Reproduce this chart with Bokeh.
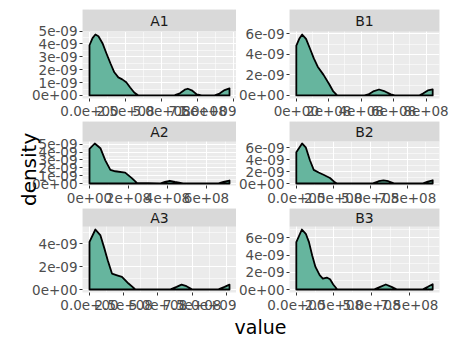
import numpy as np
from bokeh.plotting import figure
from bokeh.layouts import column, row
from bokeh.models import Range1d, FixedTicker, BoxAnnotation, Label
from bokeh.embed import file_html
from bokeh.resources import INLINE

# ---------------- data (x in units of 1e8, density in units of 1e-9) ----------------
X_UNIT = 1e8
Y_UNIT = 1e-9

a1_x = [0, 0.21, 0.41, 0.62, 0.9, 1.17, 1.45, 1.72, 2.0, 2.27, 2.55, 2.82, 3.1, 3.37, 4.2, 5.23,
        5.92, 6.27, 6.61, 6.82, 7.09, 7.44, 7.78, 8.68, 9.02, 9.37, 9.71]
a1_y = [3.9, 4.45, 4.73, 4.6, 4.06, 3.28, 2.5, 1.8, 1.4, 1.25, 1.02, 0.62, 0.23, 0.02, 0.0, 0.0,
        0.02, 0.17, 0.45, 0.52, 0.4, 0.08, 0.01, 0.0, 0.15, 0.42, 0.55]

b1_x = [0, 0.18, 0.36, 0.6, 0.84, 1.08, 1.32, 1.68, 2.04, 2.28, 2.52, 4.2, 4.44, 4.74, 5.1, 5.47,
        5.83, 6.07, 7.57, 7.81, 8.11, 8.41]
b1_y = [4.85, 5.5, 5.92, 5.5, 4.56, 3.6, 2.8, 2.0, 1.07, 0.39, 0.0, 0.0, 0.1, 0.39, 0.58, 0.39,
        0.1, 0.0, 0.0, 0.19, 0.49, 0.58]

a2_x = [0, 0.27, 0.56, 0.81, 1.07, 1.32, 1.83, 2.17, 2.43, 3.61, 3.87, 4.12, 4.38, 4.8, 6.58,
        6.87, 7.18]
a2_y = [4.4, 5.1, 4.5, 2.95, 1.73, 1.56, 1.39, 0.69, 0.07, 0.0, 0.2, 0.35, 0.2, 0.0, 0.0, 0.2, 0.38]

b2_x = [0, 0.39, 0.64, 0.92, 1.18, 1.51, 1.84, 2.28, 2.61, 2.76, 5.13, 5.57, 5.9, 6.23, 6.66,
        8.53, 8.9, 9.23]
b2_y = [5.25, 6.7, 6.07, 3.9, 2.28, 1.84, 1.46, 0.92, 0.2, 0.0, 0.0, 0.38, 0.54, 0.38, 0.0,
        0.0, 0.33, 0.54]

a3_x = [0, 0.43, 0.8, 1.09, 1.33, 1.64, 2.01, 2.37, 2.85, 3.33, 5.87, 6.36, 6.72, 7.08, 7.51,
        9.37, 9.86, 10.22]
a3_y = [4.15, 5.24, 4.72, 3.57, 2.55, 1.39, 1.24, 1.1, 0.52, 0.03, 0.0, 0.23, 0.43, 0.29, 0.0,
        0.0, 0.23, 0.43]

b3_x = [0, 0.37, 0.63, 0.84, 1.05, 1.27, 1.55, 1.76, 2.02, 2.24, 2.45, 2.71, 5.14, 5.57, 5.94,
        6.32, 6.69, 8.37, 8.73, 9.05]
b3_y = [5.5, 6.97, 6.47, 5.5, 3.97, 2.62, 1.66, 1.27, 1.39, 1.19, 0.58, 0.03, 0.0, 0.31, 0.58,
        0.31, 0.0, 0.0, 0.31, 0.61]

# tick values and labels
xt_sci1 = [0.0, 2.5e8, 5.0e8, 7.5e8, 1.0e9]
xl_sci1 = ["0.0e+00", "2.5e+08", "5.0e+08", "7.5e+08", "1.0e+09"]
xt_b1 = [0.0, 2e8, 4e8, 6e8, 8e8]
xl_b1 = ["0e+00", "2e+08", "4e+08", "6e+08", "8e+08"]
xt_a2 = [0.0, 2e8, 4e8, 6e8]
xl_a2 = ["0e+00", "2e+08", "4e+08", "6e+08"]
xt_b23 = [0.0, 2.5e8, 5.0e8, 7.5e8]
xl_b23 = ["0.0e+00", "2.5e+08", "5.0e+08", "7.5e+08"]

yt_1 = [0.0, 1e-9, 2e-9, 3e-9, 4e-9, 5e-9]
yl_1 = ["0e+00", "1e-09", "2e-09", "3e-09", "4e-09", "5e-09"]
yt_2 = [0.0, 2e-9, 4e-9, 6e-9]
yl_2 = ["0e+00", "2e-09", "4e-09", "6e-09"]
yt_3 = [0.0, 2e-9, 4e-9]
yl_3 = ["0e+00", "2e-09", "4e-09"]

# ---------------- styling ----------------
FONT = "DejaVu Sans"
FILL = "#66b59e"
PANEL_BG = "#EBEBEB"
STRIP_BG = "#D9D9D9"
TICK_FS = "13.5px"

LEFT_W, LEFT_BL, LEFT_BR = 236, 82, 0
RIGHT_W, RIGHT_BL, RIGHT_BR = 238, 50, 35
BOTTOM = 23


def minors(ticks):
    t = np.array(ticks, dtype=float)
    step = t[1] - t[0]
    mids = list((t[:-1] + t[1:]) / 2)
    return [t[0] - step / 2] + mids + [t[-1] + step / 2]


def make_panel(name, xs, ys, xticks, xlabels, yticks, ylabels, left, height, top_border,
               strip_px, panel_px):
    x = np.array(xs) * X_UNIT
    y = np.array(ys) * Y_UNIT
    x0, x1 = float(x.min()), float(x.max())
    dx = x1 - x0
    xr = Range1d(x0 - 0.05 * dx, x1 + 0.05 * dx)
    ymax = float(y.max())
    lo, hi = -0.05 * ymax, 1.05 * ymax
    ytop = hi + (hi - lo) * strip_px / panel_px
    yr = Range1d(lo, ytop)

    if left:
        w, bl, br = LEFT_W, LEFT_BL, LEFT_BR
    else:
        w, bl, br = RIGHT_W, RIGHT_BL, RIGHT_BR

    p = figure(width=w, height=height, x_range=xr, y_range=yr, title=None,
               output_backend="svg", toolbar_location=None,
               min_border_left=bl, min_border_right=br,
               min_border_top=top_border, min_border_bottom=BOTTOM)
    p.background_fill_color = PANEL_BG
    p.border_fill_color = "white"
    p.outline_line_color = None

    xtk = FixedTicker(ticks=xticks, minor_ticks=minors(xticks))
    ytk = FixedTicker(ticks=yticks, minor_ticks=minors(yticks))
    p.xaxis.ticker = xtk
    p.yaxis.ticker = ytk
    p.xgrid.ticker = xtk
    p.ygrid.ticker = ytk
    p.xaxis.major_label_overrides = {t: l for t, l in zip(xticks, xlabels)}
    p.yaxis.major_label_overrides = {t: l for t, l in zip(yticks, ylabels)}

    for g in (p.xgrid[0], p.ygrid[0]):
        g.grid_line_color = "white"
        g.grid_line_width = 1.1
        g.minor_grid_line_color = "white"
        g.minor_grid_line_width = 0.55

    for ax in (p.xaxis[0], p.yaxis[0]):
        ax.axis_line_color = None
        ax.major_tick_line_color = "#333333"
        ax.major_tick_line_width = 1
        ax.major_tick_in = 0
        ax.major_tick_out = 3
        ax.minor_tick_line_color = None
        ax.minor_tick_in = 0
        ax.minor_tick_out = 0
        ax.major_label_text_font = FONT
        ax.major_label_text_font_size = TICK_FS
        ax.major_label_text_color = "#4D4D4D"
    p.xaxis.major_label_standoff = 4
    p.yaxis.major_label_standoff = 2

    # density area with full outline
    px = [x[0]] + list(x) + [x[-1]]
    py = [0.0] + list(y) + [0.0]
    p.patch(px, py, fill_color=FILL, fill_alpha=1.0, line_color="black", line_width=1.8,
            line_join="round")

    # facet strip
    p.add_layout(BoxAnnotation(left=xr.start, right=xr.end, bottom=hi, top=ytop,
                               fill_color=STRIP_BG, fill_alpha=1.0, line_color=None))
    p.add_layout(Label(x=(xr.start + xr.end) / 2, y=(hi + ytop) / 2, text=name,
                       text_align="center", text_baseline="middle",
                       text_font=FONT, text_font_size="14px", text_color="#1A1A1A"))
    return p


pa1 = make_panel("A1", a1_x, a1_y, xt_sci1, xl_sci1, yt_1, yl_1, True, 121, 9, 22, 67)
pb1 = make_panel("B1", b1_x, b1_y, xt_b1, xl_b1, yt_2, yl_2, False, 121, 9, 22, 67)
pa2 = make_panel("A2", a2_x, a2_y, xt_a2, xl_a2, yt_1, yl_1, True, 87, 0, 20, 44)
pb2 = make_panel("B2", b2_x, b2_y, xt_b23, xl_b23, yt_2, yl_2, False, 87, 0, 20, 44)
pa3 = make_panel("A3", a3_x, a3_y, xt_sci1, xl_sci1, yt_3, yl_3, True, 107, 0, 18, 66)
pb3 = make_panel("B3", b3_x, b3_y, xt_b23, xl_b23, yt_2, yl_2, False, 107, 0, 18, 66)

# y axis title on the middle-left panel (overlapping its tick labels as in the reference);
# trailing no-break spaces move the visible word down to the middle of the whole figure
pa2.yaxis.axis_label = "density" + "\u00a0" * 5
pa2.yaxis.axis_label_text_font = FONT
pa2.yaxis.axis_label_text_font_size = "20px"
pa2.yaxis.axis_label_text_font_style = "normal"
pa2.yaxis.axis_label_text_color = "black"
pa2.yaxis.axis_label_standoff = -12

# x axis title strip
vf = figure(width=474, height=23, x_range=Range1d(0, 474), y_range=Range1d(0, 23), title=None,
            output_backend="svg", toolbar_location=None, x_axis_location=None,
            y_axis_location=None, min_border=0)
vf.grid.visible = False
vf.outline_line_color = None
vf.background_fill_color = "white"
vf.border_fill_color = "white"
vf.add_layout(Label(x=260, y=11.5, text="value", text_align="center", text_baseline="middle",
                    text_font=FONT, text_font_size="19px", text_color="black"))

p = column(row(pa1, pb1), row(pa2, pb2), row(pa3, pb3), vf)

open("out.html", "w").write(file_html(p, INLINE))
